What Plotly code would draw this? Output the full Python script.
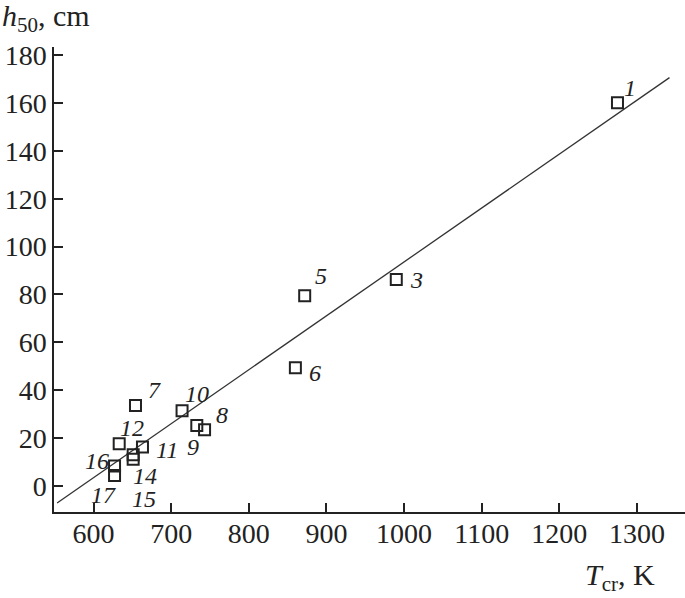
import plotly.graph_objects as go

# Data
point_ids = ["1", "3", "5", "6", "7", "8", "9", "10", "11", "12", "14", "15", "16", "17"]
t_cr = [1275, 990, 872, 860, 654, 743, 733, 714, 663, 633, 651, 651, 627, 627]
h50 = [160.2, 86.3, 79.5, 49.3, 33.5, 23.4, 25.2, 31.3, 16.2, 17.5, 12.9, 11.1, 8.2, 4.3]

fit_x = [553, 1342]
fit_y = [-7.2, 170.7]

x_ticks = [600, 700, 800, 900, 1000, 1100, 1200, 1300]
y_ticks = [0, 20, 40, 60, 80, 100, 120, 140, 160, 180]

# label offsets in pixels (dx, dy with dy positive = up)
label_offsets = {
    "1": (13, 15), "3": (20, -1), "5": (16, 20), "6": (20, -5),
    "7": (19, 16), "8": (17, 15), "9": (-4, -22), "10": (15, 17),
    "11": (25, -3), "12": (13, 16), "14": (12, -21), "15": (11, -40),
    "16": (-18, 5), "17": (-11, -20),
}

FONT = "Liberation Serif"
INK = "#222222"

fig = go.Figure()
fig.add_trace(go.Scatter(
    x=fit_x, y=fit_y, mode="lines",
    line=dict(color="#333333", width=1.3), showlegend=False, hoverinfo="skip"))
fig.add_trace(go.Scatter(
    x=t_cr, y=h50, mode="markers",
    marker=dict(symbol="square-open", size=11, color=INK, line=dict(width=2, color=INK)),
    showlegend=False))

for pid, xv, yv in zip(point_ids, t_cr, h50):
    dx, dy = label_offsets[pid]
    fig.add_annotation(x=xv, y=yv, xref="x", yref="y", text=f"<i>{pid}</i>",
                       showarrow=False, xshift=dx, yshift=dy,
                       font=dict(family=FONT, size=24, color=INK))

fig.add_annotation(xref="paper", yref="paper", x=-0.0856, y=1.062,
                   xanchor="left", yanchor="middle", showarrow=False,
                   text="<i>h</i><sub>50</sub>, cm",
                   font=dict(family=FONT, size=30, color=INK))
fig.add_annotation(xref="paper", yref="paper", x=0.955, y=-0.14,
                   xanchor="right", yanchor="middle", showarrow=False,
                   text="<i>T</i><sub>cr</sub>, K",
                   font=dict(family=FONT, size=30, color=INK))

fig.update_layout(
    width=685, height=598,
    margin=dict(l=54, r=0, t=47, b=86),
    paper_bgcolor="white", plot_bgcolor="white",
    font=dict(family=FONT, size=28, color=INK),
    xaxis=dict(range=[549, 1362], tickvals=x_ticks, ticks="inside", ticklen=9,
               tickwidth=1.5, tickcolor=INK, showline=True, linecolor=INK, linewidth=1.5,
               showgrid=False, zeroline=False, mirror=False, ticklabelstandoff=-4,
               tickfont=dict(family=FONT, size=28, color=INK)),
    yaxis=dict(range=[-11, 183.5], tickvals=y_ticks, ticks="inside", ticklen=9,
               tickwidth=1.5, tickcolor=INK, showline=True, linecolor=INK, linewidth=1.5,
               showgrid=False, zeroline=False, mirror=False,
               tickfont=dict(family=FONT, size=28, color=INK)),
)

fig.write_html("out.html")
